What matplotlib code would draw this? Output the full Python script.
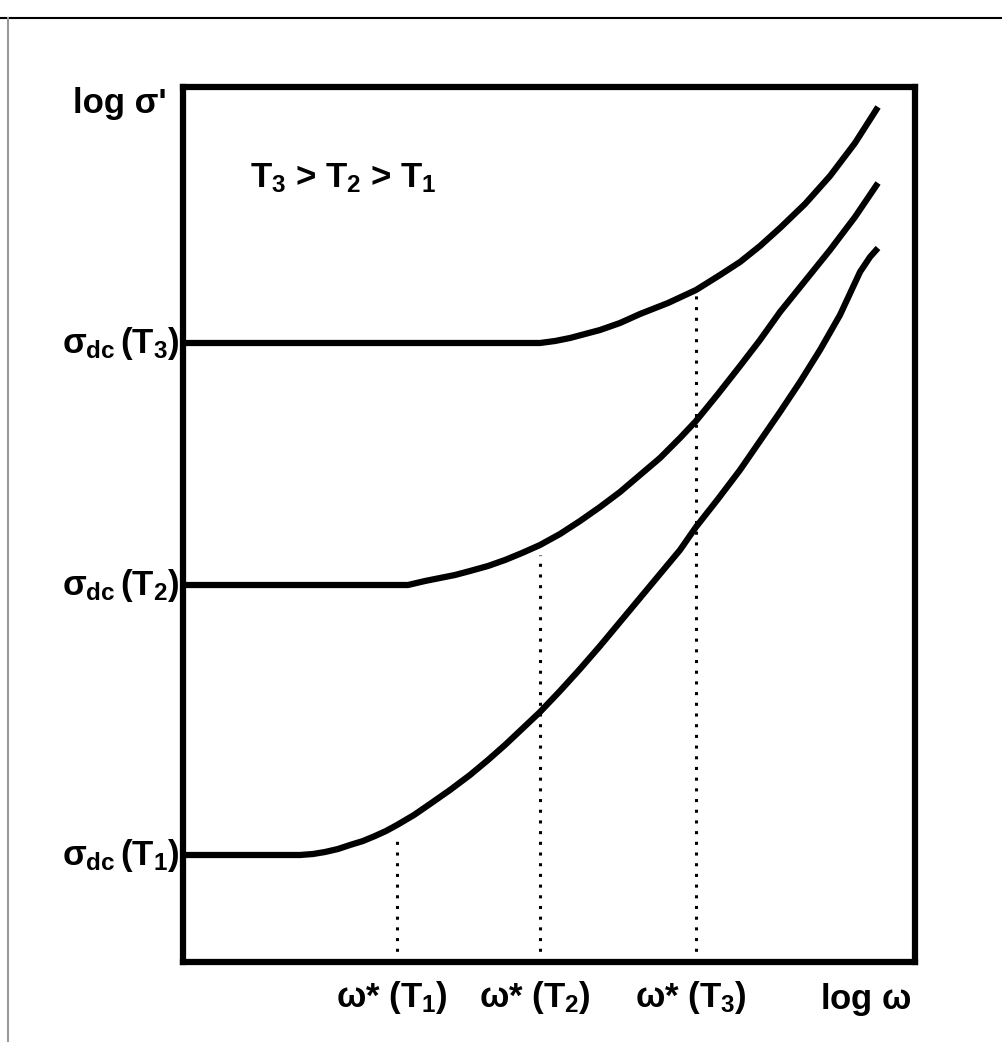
import matplotlib
matplotlib.use("Agg")
import matplotlib.pyplot as plt
from matplotlib.lines import Line2D

plt.rcParams['mathtext.fontset'] = 'custom'
plt.rcParams['mathtext.rm'] = 'Liberation Sans:bold'
plt.rcParams['mathtext.it'] = 'Liberation Sans:bold'
plt.rcParams['mathtext.bf'] = 'Liberation Sans:bold'
plt.rcParams['font.family'] = ['Liberation Sans', 'DejaVu Sans']
plt.rcParams['font.weight'] = 'bold'

H = 1042
# curves (x in px-like units, y = log sigma' in arbitrary units)
t3_x = [183, 540, 555, 570, 585, 600, 620, 640, 668, 696, 720, 740, 760, 780, 805, 830, 855, 878]
t3_y = [343, 343, 341, 338, 334, 330, 323, 314, 303, 290, 275, 262, 246, 228, 204, 176, 143, 107]
t2_x = [183, 408, 425, 440, 455, 470, 488, 505, 522, 540, 560, 580, 600, 620, 640, 660, 680, 696, 718, 740, 760, 780, 805, 830, 855, 878]
t2_y = [585, 585, 581, 578, 575, 571, 566, 560, 553, 545, 534, 521, 507, 492, 475, 458, 438, 421, 394, 366, 340, 312, 281, 250, 217, 183]
t1_x = [183, 300, 313, 325, 338, 350, 363, 375, 386, 397, 414, 430, 450, 470, 488, 505, 522, 540, 560, 580, 600, 620, 640, 660, 680, 696, 718, 740, 760, 780, 800, 820, 840, 860, 870, 878]
t1_y = [855, 855, 854, 852, 849, 845, 841, 836, 831, 825, 815, 804, 790, 775, 760, 745, 729, 712, 691, 669, 646, 622, 598, 574, 550, 527, 499, 470, 441, 412, 382, 350, 315, 272, 257, 248]
star_x = [397, 540, 696]
star_top = [840, 555, 290]

ytick_pos = [343, 585, 855]
ytick_lab = [r'$σ_{dc}\,(T_3)$', r'$σ_{dc}\,(T_2)$', r'$σ_{dc}\,(T_1)$']
xtick_lab = [r'$ω$* $(T_1)$', r'$ω$* $(T_2)$', r'$ω$* $(T_3)$']

fig = plt.figure(figsize=(10.02, 10.42), dpi=100)
x0, x1, y0, y1 = 183, 915, 87, 962
ax = fig.add_axes([x0/1002, (H-y1)/H, (x1-x0)/1002, (y1-y0)/H])
ax.set_xlim(x0, x1)
ax.set_ylim(y1, y0)
for s in ax.spines.values():
    s.set_linewidth(4.5)
for xs, ys in [(t3_x, t3_y), (t2_x, t2_y), (t1_x, t1_y)]:
    ax.plot(xs, ys, color='black', lw=4.5, solid_capstyle='butt', solid_joinstyle='round')
for x, t in zip(star_x, star_top):
    ax.plot([x, x], [y1, t], color='black', lw=2.2, ls=(0, (1, 2.5)))
ax.set_xticks([]); ax.set_yticks([])
fs = 25
for y, l in zip(ytick_pos, ytick_lab):
    ax.text(-0.005, (y1-y)/(y1-y0), l, transform=ax.transAxes, ha='right', va='center', fontsize=fs)
for x, l in zip(star_x, xtick_lab):
    ax.text(x-5, 997, l, ha='center', va='center', fontsize=fs, clip_on=False)
ax.text(866, 1000, r'log $ω$', ha='center', va='center', fontsize=fs, clip_on=False)
ax.text(120, 103, "log σ'", ha='center', va='center', fontsize=fs, clip_on=False)
ax.text(250, 178, r'$T_3$ > $T_2$ > $T_1$', ha='left', va='center', fontsize=fs)

fig.add_artist(Line2D([0, 1], [(H-18)/H]*2, color='black', lw=1.5))
fig.add_artist(Line2D([8/1002]*2, [0, (H-18)/H], color='#999999', lw=1.5))
fig.savefig('out.png', dpi=100)
